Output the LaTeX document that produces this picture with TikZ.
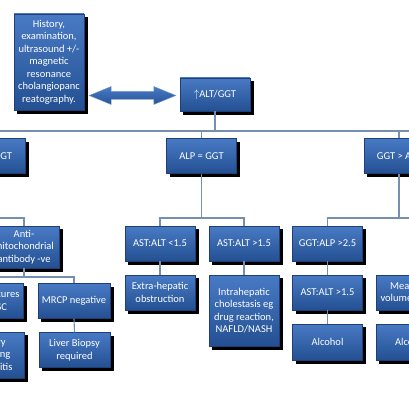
\documentclass[tikz,border=0pt]{standalone}
\usepackage{fontspec}
\setmainfont{Carlito}
\usepackage{tikz}
\usetikzlibrary{calc,backgrounds}

\definecolor{boxtop}{RGB}{72,122,196}
\definecolor{boxbot}{RGB}{36,80,146}
\definecolor{boxline}{RGB}{30,64,118}
\definecolor{linkc}{RGB}{118,142,176}

\begin{document}
\begin{tikzpicture}[x=1pt,y=-1pt,
    box/.style={draw=boxline, top color=boxtop, bottom color=boxbot, text=white,
        minimum width=70pt, minimum height=35pt, inner sep=1pt, align=center,
        font=\fontsize{10.5}{12.5}\selectfont},
    shadowbox/.style={fill=black},
    link/.style={draw=linkc, line width=1.1pt}]
    \clip (0,0) rectangle (409,409);
    \useasboundingbox (0,0) rectangle (409,409);

    % Rows of the tree
    \coordinate (r1) at (0,131);
    \coordinate (r2) at (0,218);
    \coordinate (r3) at (0,277);
    \coordinate (r1e) at (440,131);
    \coordinate (r2e) at (440,218);

    % Work-up and start
    \node[box, minimum height=96pt] (hist) at (49,62)
        {History,\\examination,\\ultrasound +/-\\magnetic\\resonance\\cholangiopanc\\reatography.};
    \node[box, minimum height=33pt] (alt) at (215,94.5) {$\uparrow$ALT/GGT};

    % First split
    \node[box] (alpgt) at (-10,156) {ALP > GGT};
    \node[box] (alpeq) at (201.5,156) {ALP = GGT};
    \node[box] (ggtgt) at (399,156) {GGT > ALP};

    % ALP > GGT branch
    \node[box, minimum height=42pt] (ama) at (24,247) {Anti-\\mitochondrial\\antibody -ve};
    \node[box, minimum width=48pt] (strict) at (-1,300.5) {Strictures\\PSC};
    \node[box, minimum width=72pt] (mrcp) at (74,301) {MRCP negative};
    \node[box, minimum height=46pt] (psc) at (-11,355) {Primary\\Sclerosing\\Cholangitis};
    \node[box, minimum width=71pt] (biopsy) at (74.5,350) {Liver Biopsy\\required};

    % ALP = GGT branch
    \node[box] (ast1) at (160,243.5) {AST:ALT <1.5};
    \node[box] (extra) at (160,292.5) {Extra-hepatic\\obstruction};
    \node[box] (ast2) at (244,243.5) {AST:ALT >1.5};
    \node[box, minimum height=71pt] (intra) at (244,310.5)
        {Intrahepatic\\cholestasis eg\\drug reaction,\\NAFLD/NASH};

    % GGT > ALP branch
    \node[box] (ggtr) at (327.5,243.5) {GGT:ALP >2.5};
    \node[box] (ast3) at (327.5,292.5) {AST:ALT >1.5};
    \node[box, minimum height=36pt] (alc) at (327.5,342) {Alcohol};
    \node[box] (mcv) at (411,292.5) {Mean cell\\volume (MCV)};
    \node[box, minimum height=36pt] (alc2) at (411,342) {Alcohol};

    % Shadows behind the boxes
    \begin{scope}[on background layer]
        \foreach \n in {hist,alt,alpgt,alpeq,ggtgt,ama,strict,mrcp,psc,biopsy,
                        ast1,extra,ast2,intra,ggtr,ast3,alc,mcv,alc2}
            \fill[shadowbox] ($(\n.north west)+(3.5,3.5)$) rectangle ($(\n.south east)+(3.5,3.5)$);
    \end{scope}

    % Connectors
    \draw[link] (alt.south) -- (alt.south |- r1);
    \draw[link] (alpgt.north) |- (r1e);
    \draw[link] (alpeq.north) -- (alpeq.north |- r1);
    \draw[link] (ggtgt.north) -- (ggtgt.north |- r1);

    \draw[link] (alpgt.south) |- (ama.north |- r2) -- (ama.north);
    \draw[link] (alpeq.south) -- (alpeq.south |- r2);
    \draw[link] (ast1.north) |- (ast2.north |- r2) -- (ast2.north);
    \draw[link] (ggtgt.south) -- (ggtgt.south |- r2);
    \draw[link] (ggtr.north) |- (r2e);

    \draw[link] (ama.south) -- (ama.south |- r3);
    \draw[link] (strict.north) |- (mrcp.north |- r3) -- (mrcp.north);
    \draw[link] (strict.south) -- (strict.south |- psc.north);
    \draw[link] (mrcp.south) -- (biopsy.north);
    \draw[link] (ast1.south) -- (extra.north);
    \draw[link] (ast2.south) -- (intra.north);
    \draw[link] (ggtr.south) -- (ast3.north);
    \draw[link] (ast3.south) -- (alc.north);

    % Double arrow between work-up and start
    \coordinate (al) at ($(hist.east |- alt.west)+(5,1)$);
    \coordinate (ar) at ($(alt.west)+(-4,1)$);
    \draw[boxtop!80!white, top color=boxtop, bottom color=boxbot!90!boxtop] (al) -- ++(22,-9) -- ++(0,5)
        -- ($(ar)+(-22,-4)$) -- ++(0,-5) -- (ar) -- ++(-22,9) -- ++(0,-5)
        -- ($(al)+(22,4)$) -- ++(0,5) -- cycle;
\end{tikzpicture}
\end{document}
